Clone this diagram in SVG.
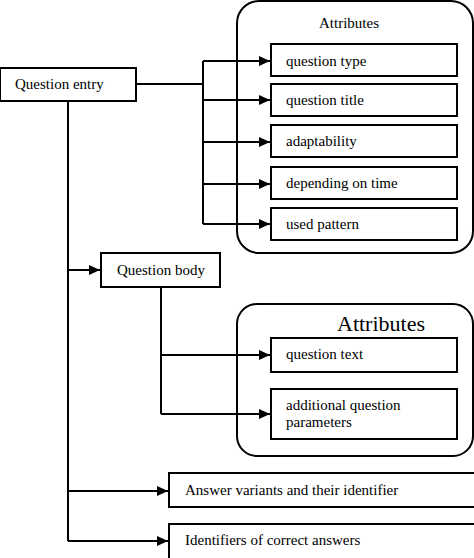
<svg xmlns="http://www.w3.org/2000/svg" width="474" height="558" viewBox="0 0 474 558">
<defs>
<marker id="ah" markerWidth="12" markerHeight="10" refX="11" refY="5" orient="auto" markerUnits="userSpaceOnUse">
<path d="M0,0 L11,5 L0,10 Z" fill="#000"/>
</marker>
<style>
.box{fill:#fff;stroke:#000;stroke-width:2}
.cont{fill:none;stroke:#000;stroke-width:2}
.t{font-family:"Liberation Serif","Times New Roman",serif;font-size:15px;fill:#000}
.c{fill:none;stroke:#000;stroke-width:2}
</style>
</defs>
<rect width="474" height="558" fill="#fff"/>
<g id="containers">
<rect id="attr1" class="cont" x="237" y="1" width="236" height="252" rx="22"/>
<rect id="attr2" class="cont" x="237" y="304" width="236" height="152" rx="20"/>
</g>
<g id="connectors">
<path class="c" d="M136,84 H203"/>
<path class="c" d="M203,61 V224"/>
<path class="c" d="M203,61 H270" marker-end="url(#ah)"/>
<path class="c" d="M203,100 H270" marker-end="url(#ah)"/>
<path class="c" d="M203,142 H270" marker-end="url(#ah)"/>
<path class="c" d="M203,184 H270" marker-end="url(#ah)"/>
<path class="c" d="M203,224 H270" marker-end="url(#ah)"/>
<path class="c" d="M68,101 V541"/>
<path class="c" d="M68,270 H100" marker-end="url(#ah)"/>
<path class="c" d="M68,491 H168" marker-end="url(#ah)"/>
<path class="c" d="M68,541 H168" marker-end="url(#ah)"/>
<path class="c" d="M161,287 V414"/>
<path class="c" d="M161,355 H270" marker-end="url(#ah)"/>
<path class="c" d="M161,414 H270" marker-end="url(#ah)"/>
</g>
<g id="attributes-label-1"><text class="t" x="349" y="28" text-anchor="middle">Attributes</text></g>
<g id="attributes-label-2"><text class="t" x="381" y="331" text-anchor="middle" style="font-size:22px">Attributes</text></g>
<g id="question-entry">
<rect class="box" x="0" y="68" width="136" height="33"/>
<text class="t" x="15" y="89">Question entry</text>
</g>
<g id="question-type">
<rect class="box" x="271" y="44" width="186" height="32"/>
<text class="t" x="286" y="66">question type</text>
</g>
<g id="question-title">
<rect class="box" x="271" y="84" width="186" height="32"/>
<text class="t" x="286" y="105">question title</text>
</g>
<g id="adaptability">
<rect class="box" x="271" y="125" width="186" height="32"/>
<text class="t" x="286" y="146">adaptability</text>
</g>
<g id="depending-on-time">
<rect class="box" x="271" y="167" width="186" height="32"/>
<text class="t" x="286" y="188">depending on time</text>
</g>
<g id="used-pattern">
<rect class="box" x="271" y="208" width="186" height="32"/>
<text class="t" x="286" y="229">used pattern</text>
</g>
<g id="question-body">
<rect class="box" x="101" y="253" width="119" height="34"/>
<text class="t" x="117" y="275">Question body</text>
</g>
<g id="question-text">
<rect class="box" x="271" y="338" width="186" height="34"/>
<text class="t" x="286" y="359">question text</text>
</g>
<g id="additional-parameters">
<rect class="box" x="271" y="389" width="186" height="50"/>
<text class="t" x="286" y="410">additional question</text>
<text class="t" x="286" y="427">parameters</text>
</g>
<g id="answer-variants">
<rect class="box" x="169" y="473" width="310" height="34"/>
<text class="t" x="185" y="495">Answer variants and their identifier</text>
</g>
<g id="correct-answers">
<rect class="box" x="169" y="524" width="310" height="40"/>
<text class="t" x="185" y="545">Identifiers of correct answers</text>
</g>
</svg>
